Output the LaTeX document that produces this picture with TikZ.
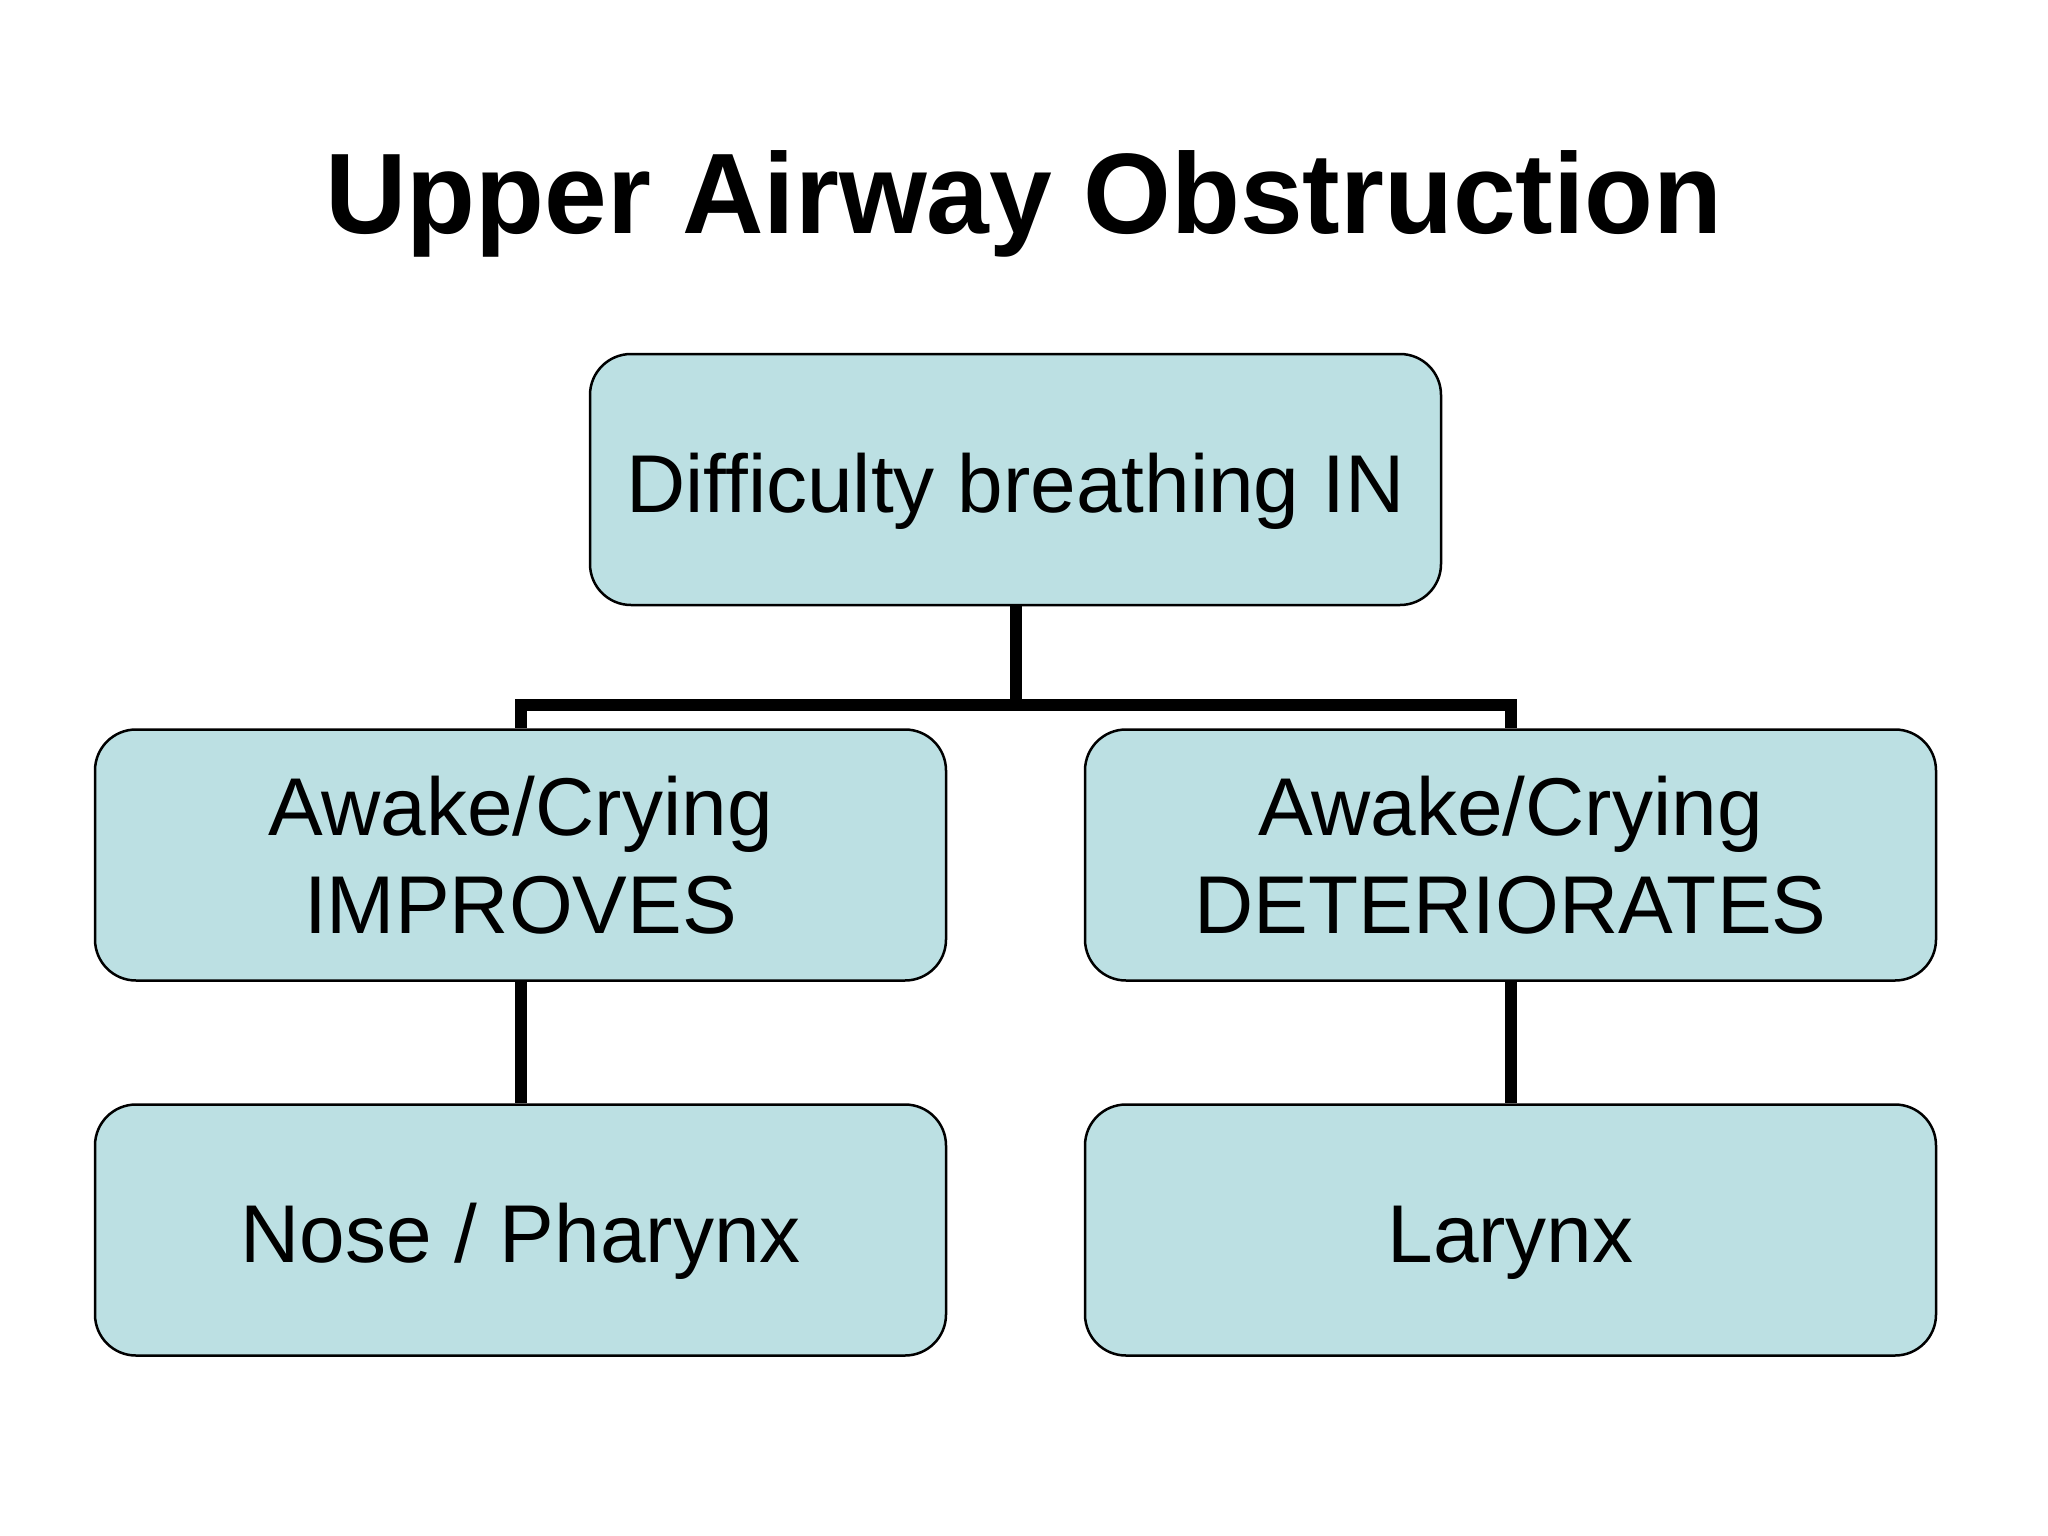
\documentclass[tikz,border=0pt]{standalone}
\usepackage{fontspec}
\setmainfont{Liberation Sans}
\definecolor{boxfill}{RGB}{188,224,227}
\begin{document}
\begin{tikzpicture}[x=1pt,y=-1pt,
  box/.style={draw=black, line width=2.5pt, fill=boxfill, rounded corners=41pt,
    minimum width=851pt, minimum height=251pt, inner sep=0pt, align=center,
    font=\fontsize{82}{98.5}\selectfont},
  oneline/.style={text height=65pt, text depth=0pt},
  conn/.style={draw=black, line width=12pt, line join=miter, line cap=butt}]
\fill[white] (0,0) rectangle (2048,1536);
\useasboundingbox (0,0) rectangle (2048,1536);
\node[anchor=base, font=\bfseries\fontsize{114.5}{137}\selectfont] (title) at (1024,233) {\scalebox{0.985}[1]{Upper Airway Obstruction}};
\node[box, oneline] (top) at (1015.5,479.5) {Difficulty breathing IN};
\node[box] (left) at (520.5,855) {Awake/Crying\\IMPROVES};
\node[box] (right) at (1510.5,855) {Awake/Crying\\DETERIORATES};
\node[box, oneline] (nose) at (520.5,1230) {Nose / Pharynx};
\node[box, oneline] (larynx) at (1510.5,1230) {Larynx};
\coordinate (j) at (1015.5,705);
\draw[conn] (top.south) -- (j);
\draw[conn] (j) -| (left.north);
\draw[conn] (j) -| (right.north);
\draw[conn] (left.south) -- (nose.north);
\draw[conn] (right.south) -- (larynx.north);
\end{tikzpicture}
\end{document}
